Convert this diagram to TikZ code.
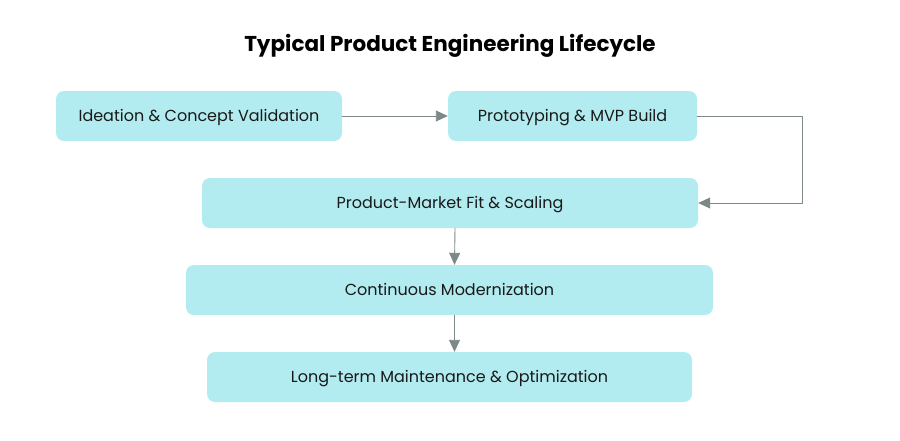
\documentclass[tikz,border=0pt]{standalone}
\usepackage{fontspec}
\setmainfont{Poppins}
\usetikzlibrary{arrows.meta}
\definecolor{stagefill}{HTML}{B2ECF0}
\definecolor{linkgray}{HTML}{7E8888}
\begin{document}
\begin{tikzpicture}[x=1pt,y=-1pt,line cap=round,line join=round,
  stage/.style={fill=stagefill,rounded corners=8pt,minimum height=50pt,inner sep=0pt,
    text height=1.1em,text depth=0pt,text=black!90,font=\fontsize{16}{19}\selectfont},
  link/.style={draw=linkgray,line width=0.9pt,-{Triangle[length=12pt,width=11pt]}}]
  \useasboundingbox (0,0) rectangle (900,440);
  \node[font=\fontsize{21.5}{25}\selectfont\bfseries,inner sep=0pt,text height=0.8em,text depth=0pt] (title) at (450,47) {Typical Product Engineering Lifecycle};
  % stages
  \node[stage,minimum width=286pt] (idea) at (199,116) {Ideation \& Concept Validation};
  \node[stage,minimum width=249pt] (proto) at (572.5,116) {Prototyping \& MVP Build};
  \node[stage,minimum width=496pt] (pmf) at (450,203) {Product-Market Fit \& Scaling};
  \node[stage,minimum width=527pt] (modern) at (449.5,290) {Continuous Modernization};
  \node[stage,minimum width=485pt] (maint) at (449.5,377) {Long-term Maintenance \& Optimization};
  % links
  \draw[link] (idea) -- (proto);
  \draw[link] (proto.east) -- ++(105,0) |- (pmf.east);
  \draw[link] ([xshift=5pt]pmf.south) -- ([xshift=5pt]modern.north);
  \draw[link] ([xshift=5pt]modern.south) -- ([xshift=5pt]maint.north);
\end{tikzpicture}
\end{document}
